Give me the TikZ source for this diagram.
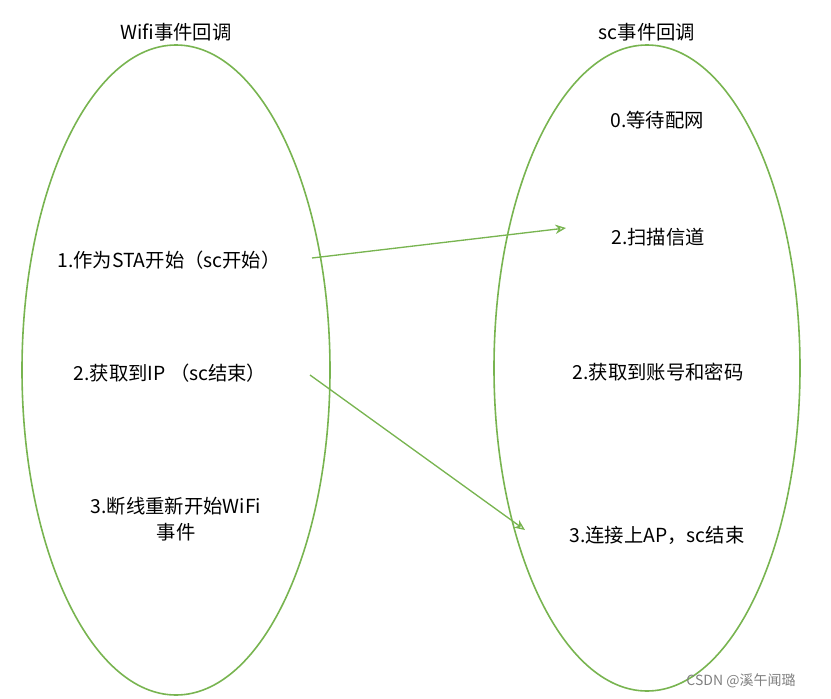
\documentclass[tikz,border=0pt]{standalone}
\usepackage{fontspec}
\setmainfont{Noto Sans CJK SC}
\usetikzlibrary{arrows.meta}
\definecolor{eg}{RGB}{120,180,80}
\begin{document}
\begin{tikzpicture}[x=0.75pt,y=-0.75pt,
  ell/.style={draw=eg,line width=1.2pt},
  lbl/.style={font=\fontsize{14.5}{19}\selectfont,inner sep=1pt,align=center},
  arr/.style={draw=eg,line width=1pt,-{Stealth[length=8pt,width=7pt,open]}}]
\useasboundingbox (0,0) rectangle (831,699);
\draw[ell] (176,370) ellipse [x radius=154,y radius=325];
\draw[ell] (647,368) ellipse [x radius=153,y radius=323];
\node[lbl] (t1) at (176,32) {Wifi事件回调};
\node[lbl] (t2) at (647,32) {sc事件回调};
\node[lbl] (r0) at (657,120) {0.等待配网};
\node[lbl] (r1) at (658,237) {2.扫描信道};
\node[lbl] (r2) at (658,372) {2.获取到账号和密码};
\node[lbl] (r3) at (657,535) {3.连接上AP，sc结束};
\node[lbl] (l1) at (169,260) {1.作为STA开始（sc开始）};
\node[lbl] (l2) at (170,373) {2.获取到IP （sc结束）};
\node[lbl] (l3) at (176,519) {3.断线重新开始WiFi\\事件};
\coordinate (a1) at (312,258);
\coordinate (b1) at (566,228);
\coordinate (a2) at (310,375);
\coordinate (b2) at (525,530);
\draw[arr] (a1) -- (b1);
\draw[arr] (a2) -- (b2);
\node[font=\fontsize{10.5}{12}\selectfont,text=gray] (wm) at (741,681) {CSDN @溪午闻璐};
\end{tikzpicture}
\end{document}
